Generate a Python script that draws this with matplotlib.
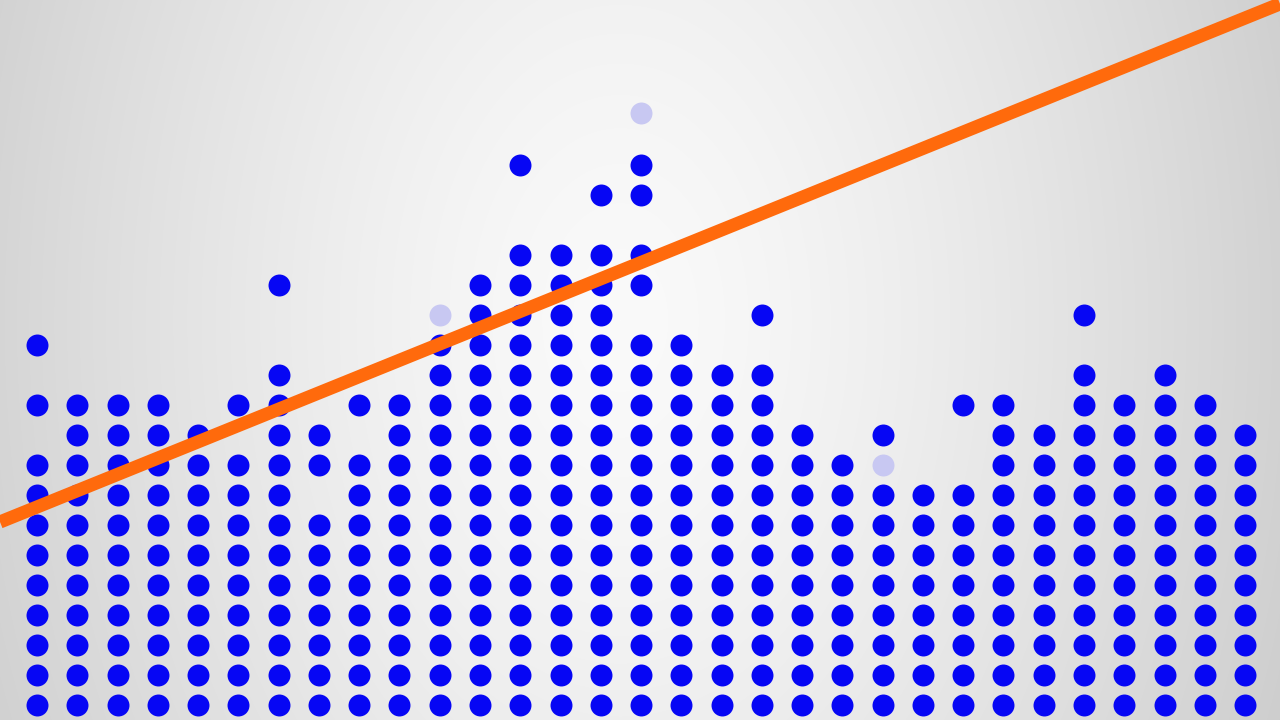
import numpy as np
import matplotlib
matplotlib.use('Agg')
import matplotlib.pyplot as plt

# Solid stack height per column (dots from row 0 up)
heights = [9, 11, 11, 11, 10, 9, 12, 7, 9, 11, 13, 15, 16, 16, 16, 13,
           13, 12, 12, 10, 9, 8, 8, 8, 11, 10, 12, 11, 12, 11, 10]

# Loose dots sitting above the stacks
extra_cols = [0, 0, 5, 6, 7, 7, 8, 12, 14, 15, 15, 15, 15, 18, 21, 23, 26]
extra_rows = [10, 12, 10, 14, 8, 9, 10, 18, 17, 14, 15, 17, 18, 13, 9, 10, 13]

# Faded (ghost) dots
faded_cols = [10, 15, 21]
faded_rows = [13, 19.75, 8]

# Trend line, value at first and last column
trend_start = 6.6
trend_end = 22.9

n_cols = len(heights)

# Build the dot grid
xs, ys = [], []
for c, h in enumerate(heights):
    for r in range(h):
        xs.append(c)
        ys.append(r)
xs += extra_cols
ys += extra_rows

fig = plt.figure(figsize=(12.8, 7.2), dpi=100)
ax = fig.add_axes([0, 0, 1, 1])

x_lo, x_hi = -0.919, 30.867
y_lo, y_hi = -0.5, 23.5

# Background: soft radial gradient, light centre, grey sides
W, H = 1280, 720
gx, gy = np.meshgrid(np.arange(W), np.arange(H))
d = np.sqrt((gx - 620)**2 + ((gy - 320) / 1.5)**2)
shade = 250 - 38 * (d / 640.0)**1.4
shade = np.clip(shade, 205, 251) / 255.0
bg = np.dstack([shade, shade, shade])
ax.imshow(bg, extent=[x_lo, x_hi, y_lo, y_hi], aspect='auto', zorder=0,
          interpolation='bilinear')

ax.scatter(xs, ys, s=250, color='#0606F4', linewidths=0, zorder=2)
ax.scatter(faded_cols, faded_rows, s=250, color='#C8C8F2', linewidths=0, zorder=2)

ax.axline((0, trend_start), (n_cols - 1, trend_end), color='#FF6A0C',
          linewidth=9.5, solid_capstyle='butt', zorder=3)

ax.set_xlim(x_lo, x_hi)
ax.set_ylim(y_lo, y_hi)
ax.axis('off')

fig.savefig('out.png', dpi=100)
